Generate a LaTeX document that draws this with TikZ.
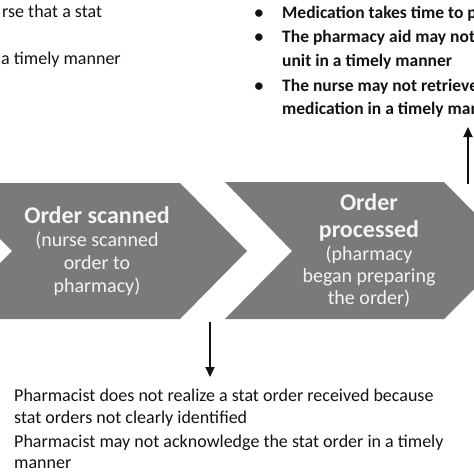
\documentclass[tikz,border=0pt]{standalone}
\usepackage{fontspec}
\setmainfont{Carlito}
\usetikzlibrary{arrows.meta}
\definecolor{chev}{RGB}{122,122,122}
\definecolor{chevtext}{RGB}{244,244,244}
\definecolor{ink}{RGB}{18,18,18}
\begin{document}
\begin{tikzpicture}[x=1pt,y=-1pt,
  chevron/.style={fill=chev,draw=none},
  head/.style={anchor=base,text=chevtext,font=\bfseries\fontsize{24}{29}\selectfont,inner sep=0pt},
  sub/.style={anchor=base,text=chevtext,font=\fontsize{20}{24}\selectfont,inner sep=0pt},
  note/.style={anchor=base west,text=ink,font=\fontsize{18}{22.5}\selectfont,inner sep=0pt},
  bnote/.style={anchor=base west,text=ink,font=\bfseries\fontsize{17.5}{24}\selectfont,inner sep=0pt},
  bul/.style={anchor=base,text=ink,font=\bfseries\fontsize{17.5}{24}\selectfont,inner sep=0pt},
  arr/.style={-{Triangle[width=9pt,length=10pt]},line width=2pt,draw=ink}]
\useasboundingbox (0,0) rectangle (474,474);
\clip (0,0) rectangle (474,474);
\fill[white] (0,0) rectangle (474,474);
% chevrons
\fill[chevron] (-55,183) -- (180,183) -- (247,251) -- (180,319) -- (-55,319) -- (12,251) -- cycle;
\fill[chevron] (225,182) -- (444,182) -- (512,251) -- (444,319) -- (225,319) -- (292,251) -- cycle;
% chevron 1 text
\node[head] (c1a) at (97,223) {Order scanned};
\node[sub] (c1b) at (97,246) {(nurse scanned};
\node[sub] (c1c) at (97,269) {order to};
\node[sub] (c1d) at (97,292) {pharmacy)};
% chevron 2 text
\node[head] (c2a) at (369,210) {Order};
\node[head] (c2b) at (369,237) {processed};
\node[sub] (c2c) at (369,260) {(pharmacy};
\node[sub] (c2d) at (369,282) {began preparing};
\node[sub] (c2e) at (369,304) {the order)};
% top left text
\node[note] (tl1) at (2,17) {rse that a stat};
\node[note] (tl2) at (1,64) {a timely manner};
% top right bullets
\node[bul] (b1) at (259,18) {•};
\node[bul] (b2) at (259,42) {•};
\node[bul] (b3) at (259,91) {•};
\node[bnote] (tr1) at (282,18) {Medication takes time to prepare};
\node[bnote] (tr2) at (282,42) {The pharmacy aid may not deliver};
\node[bnote] (tr3) at (282,66) {unit in a timely manner};
\node[bnote] (tr4) at (282,91) {The nurse may not retrieve};
\node[bnote] (tr5) at (282,114) {medication in a timely manner};
% bottom text
\node[note] (bt1) at (14,401) {Pharmacist does not realize a stat order received because};
\node[note] (bt2) at (14,423) {stat orders not clearly identified};
\node[note] (bt3) at (14,447) {Pharmacist may not acknowledge the stat order in a timely};
\node[note] (bt4) at (14,468) {manner};
% arrows
\coordinate (d1s) at (210,322);
\coordinate (d1e) at (210,377);
\coordinate (u1s) at (468,184);
\coordinate (u1e) at (468,127);
\draw[arr] (d1s) -- (d1e);
\draw[arr] (u1s) -- (u1e);
\end{tikzpicture}
\end{document}
